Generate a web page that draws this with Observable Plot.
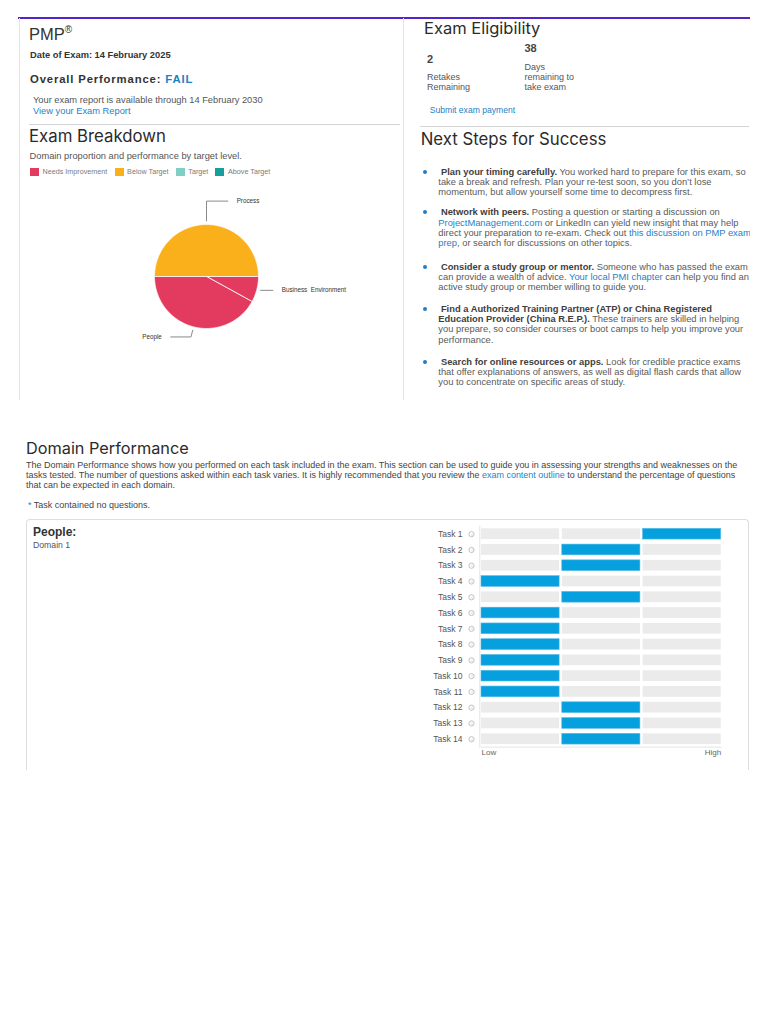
<!DOCTYPE html>
<html><head><meta charset="utf-8">
<script src="https://cdn.jsdelivr.net/npm/d3@7"></script>
<script src="https://cdn.jsdelivr.net/npm/@observablehq/plot@0.6"></script>
<style>
body{margin:0;background:#fff;width:768px;height:1024px;position:relative;overflow:hidden;font-family:"Liberation Sans",Arial,sans-serif;color:#555}
.a{position:absolute;white-space:nowrap}
.h{font-family:Inter,sans-serif;color:#2b2b2b;font-weight:400}
.b{color:#1f7fc6}
.ln{position:absolute;background:#dcdcdc}
.item{position:absolute;white-space:nowrap;font-size:9.35px;line-height:10.4px;width:312px;overflow:hidden;color:#5a5a5a}
.item strong{color:#404040}
.dot{position:absolute;width:4px;height:4px;border-radius:50%;background:#1f7fc6}
.lg [class*="swatches"]{min-height:0 !important;margin:0 !important;font-family:"Liberation Sans",Arial,sans-serif !important;font-size:7.2px !important;color:#7a7a7a !important}
</style></head><body>
<div id="root"></div>
<script>
// ---------- data ----------
const domains = ["Process", "Business Environment", "People"];
const domainShare = [50, 8, 42];
const domainLevel = ["Below Target", "Needs Improvement", "Needs Improvement"];
const levels = ["Needs Improvement", "Below Target", "Target", "Above Target"];
const levelColors = ["#e33b5f", "#f9b01b", "#7fcfc4", "#189e9c"];
const tasks = ["Task 1","Task 2","Task 3","Task 4","Task 5","Task 6","Task 7","Task 8","Task 9","Task 10","Task 11","Task 12","Task 13","Task 14"];
const taskRating = ["High","Mid","Mid","Low","Mid","Low","Low","Low","Low","Low","Low","Mid","Mid","Mid"];
const ratingBands = ["Low", "Mid", "High"];
const ratingLabels = ["Low", "High"];

// ---------- static page text ----------
const body = document.body;
function add(html){ body.insertAdjacentHTML("beforeend", html); }
add(`<div class="ln" style="left:18px;top:16.5px;width:732px;height:2px;background:#5523c9"></div>
<div class="ln" style="left:19px;top:18px;width:1px;height:382px;background:#e6e6e6"></div>
<div class="ln" style="left:403px;top:18px;width:1px;height:382px;background:#e6e6e6"></div>
<div class="a" style="left:29px;top:24px;font-size:16.5px;line-height:21px;color:#333">PMP<span style="font-size:10px;position:relative;top:-7px">®</span></div>
<div class="a" style="left:30px;top:49.5px;font-size:9.3px;line-height:10.4px;font-weight:bold;color:#333">Date of Exam: 14 February 2025</div>
<div class="a" style="left:30px;top:73.2px;font-size:11.3px;line-height:13px;font-weight:bold;letter-spacing:0.85px;color:#333">Overall Performance: <span class="b">FAIL</span></div>
<div class="a" style="left:33px;top:95.3px;font-size:9.3px;line-height:10.4px">Your exam report is available through 14 February 2030</div>
<div class="a b" style="left:33px;top:106.3px;font-size:9.3px;line-height:10.4px">View your Exam Report</div>
<div class="ln" style="left:29px;top:124px;width:371px;height:1px;background:#d4d4d4"></div>
<div class="a h" style="left:29px;top:125.5px;font-size:16.8px;line-height:21px">Exam Breakdown</div>
<div class="a" style="left:29.5px;top:150.8px;font-size:9.3px;line-height:10.4px">Domain proportion and performance by target level.</div>
<div class="a lg" id="legend" style="left:30px;top:167.3px"></div>

<div class="a h" style="left:424px;top:17.8px;font-size:16.5px;line-height:21px">Exam Eligibility</div>
<div class="a" style="left:524.5px;top:41.5px;font-size:11px;line-height:13px;font-weight:bold;color:#444">38</div>
<div class="a" style="left:427px;top:52.5px;font-size:11px;line-height:13px;font-weight:bold;color:#444">2</div>
<div class="a" style="left:427px;top:71.8px;font-size:9px;line-height:10.3px">Retakes<br>Remaining</div>
<div class="a" style="left:524.5px;top:61.5px;font-size:9px;line-height:10.3px">Days<br>remaining to<br>take exam</div>
<div class="a b" style="left:429.7px;top:105px;font-size:8.6px;line-height:10px">Submit exam payment</div>
<div class="ln" style="left:420px;top:126px;width:329px;height:1px;background:#d4d4d4"></div>
<div class="a h" style="left:420.7px;top:128.5px;font-size:16.8px;line-height:21px">Next Steps for Success</div>

<div class="dot" style="left:423px;top:169.5px"></div>
<div class="item" style="left:438.3px;top:166.5px">&nbsp;<strong>Plan your timing carefully.</strong> You worked hard to prepare for this exam, so<br>take a break and refresh. Plan your re-test soon, so you don’t lose<br>momentum, but allow yourself some time to decompress first.</div>
<div class="dot" style="left:423px;top:210.3px"></div>
<div class="item" style="left:438.3px;top:207.1px">&nbsp;<strong>Network with peers.</strong> Posting a question or starting a discussion on<br><span class="b">ProjectManagement.com</span> or LinkedIn can yield new insight that may help<br>direct your preparation to re-exam. Check out <span class="b">this discussion on PMP exam</span><br><span class="b">prep</span>, or search for discussions on other topics.</div>
<div class="dot" style="left:423px;top:264.6px"></div>
<div class="item" style="left:438.3px;top:261.5px">&nbsp;<strong>Consider a study group or mentor.</strong> Someone who has passed the exam<br>can provide a wealth of advice. <span class="b">Your local PMI chapter</span> can help you find an<br>active study group or member willing to guide you.</div>
<div class="dot" style="left:423px;top:306.6px"></div>
<div class="item" style="left:438.3px;top:303.5px">&nbsp;<strong class="b">Find a Authorized Training Partner (ATP) or China Registered</strong><br><strong class="b">Education Provider (China R.E.P.).</strong> These trainers are skilled in helping<br>you prepare, so consider courses or boot camps to help you improve your<br>performance.</div>
<div class="dot" style="left:423px;top:359.6px"></div>
<div class="item" style="left:438.3px;top:356.5px">&nbsp;<strong>Search for online resources or apps.</strong> Look for credible practice exams<br>that offer explanations of answers, as well as digital flash cards that allow<br>you to concentrate on specific areas of study.</div>

<div class="a h" style="left:26px;top:437.5px;font-size:16.3px;line-height:21px">Domain Performance</div>
<div class="a" style="left:26px;top:460px;font-size:8.97px;line-height:10px;color:#444">The Domain Performance shows how you performed on each task included in the exam. This section can be used to guide you in assessing your strengths and weaknesses on the<br>tasks tested. The number of questions asked within each task varies. It is highly recommended that you review the <span class="b">exam content outline</span> to understand the percentage of questions<br>that can be expected in each domain.</div>
<div class="a" style="left:28px;top:500px;font-size:9px;line-height:10px;color:#444"><span class="b">*</span> Task contained no questions.</div>
<div class="a" style="left:26px;top:519px;width:721px;height:250px;border:1px solid #dedede;border-bottom:none;border-radius:4px 4px 0 0"></div>
<div class="a" style="left:33px;top:525.5px;font-size:12px;line-height:13px;font-weight:bold;color:#333">People:</div>
<div class="a" style="left:33px;top:540px;font-size:8.7px;line-height:10px">Domain 1</div>
`);

// ---------- legend ----------
const legend = Plot.legend({
  color: {type: "categorical", domain: levels, range: levelColors},
  legend: "swatches", swatchWidth: 9, swatchHeight: 8
});
document.getElementById("legend").appendChild(legend);

// ---------- pie ----------
const R = 52, W = 380, H = 210, CX = 186, CY = 91;
const arcs = d3.pie().sort(null).startAngle(-Math.PI / 2).endAngle(1.5 * Math.PI)(domainShare);
const slicePts = [];
arcs.forEach((p, i) => {
  const base = {slice: domains[i], level: domainLevel[i]};
  slicePts.push({...base, x: 0, y: 0});
  const n = Math.ceil((p.endAngle - p.startAngle) / 0.01);
  for (let k = 0; k <= n; k++) {
    const a = p.startAngle + (p.endAngle - p.startAngle) * k / n;
    slicePts.push({...base, x: Math.sin(a), y: Math.cos(a)});
  }
  slicePts.push({...base, x: 0, y: 0});
});
// leader layout per slice: radial extension and horizontal run (in radius units)
const leaderOut = [1.45, 1.07, 1.2];
const leaderRun = [0.41, 0.24, 0.39];
const leaders = [], labels = [];
arcs.forEach((p, i) => {
  const m = (p.startAngle + p.endAngle) / 2;
  const sx = Math.sin(m), sy = Math.cos(m);
  const dir = sx < -0.1 ? -1 : 1;
  const p1 = {x: 1.07 * sx, y: 1.07 * sy};
  const p2 = {x: leaderOut[i] * sx, y: leaderOut[i] * sy};
  const p3 = {x: p2.x + dir * leaderRun[i], y: p2.y};
  [p1, p2, p3].forEach(q => leaders.push({slice: domains[i], ...q}));
  labels.push({text: domains[i].replace(" ", "  "), x: p3.x + dir * 0.17, y: p3.y, dir});
});
const pie = Plot.plot({
  width: W, height: H, margin: 0,
  x: {domain: [-CX / R, (W - CX) / R], axis: null},
  y: {domain: [-(H - CY) / R, CY / R], axis: null},
  color: {domain: levels, range: levelColors},
  marks: [
    Plot.line(slicePts, {x: "x", y: "y", z: "slice", fill: "level", stroke: "white", strokeWidth: 0.8}),
    Plot.line(leaders, {x: "x", y: "y", z: "slice", stroke: "#8a8a8a", strokeWidth: 1}),
    Plot.text(labels.filter(d => d.dir > 0), {x: "x", y: "y", text: "text", textAnchor: "start", fontSize: 6.3, fill: "#333", fontFamily: "Liberation Sans"}),
    Plot.text(labels.filter(d => d.dir < 0), {x: "x", y: "y", text: "text", textAnchor: "end", fontSize: 6.3, fill: "#333", fontFamily: "Liberation Sans"})
  ]
});
pie.style.position = "absolute"; pie.style.left = "20px"; pie.style.top = "185px";
body.appendChild(pie);

// ---------- task bars ----------
const taskRows = tasks.map((t, i) => ({task: t, rating: taskRating[i]}));
const bgCells = tasks.flatMap(t => ratingBands.map(b => ({task: t, band: b})));
const bars = Plot.plot({
  width: 310, height: 245, marginLeft: 61, marginRight: 9.3, marginTop: 5.8, marginBottom: 18.4,
  style: {fontFamily: "Liberation Sans, Arial, sans-serif", background: "transparent"},
  x: {domain: ratingBands, paddingInner: 0.033, paddingOuter: 0, round: false, axis: null},
  y: {domain: tasks, paddingInner: 0.32, paddingOuter: 0.16, round: false, axis: null},
  marks: [
    Plot.frame({anchor: "left", stroke: "#e4e4e4", dx: -1.7}),
    Plot.frame({anchor: "bottom", stroke: "#e4e4e4"}),
    Plot.cell(bgCells, {x: "band", y: "task", fill: "#ebebeb"}),
    Plot.cell(taskRows, {x: "rating", y: "task", fill: "#06a0de", stroke: "#55bde9", strokeWidth: 0.6}),
    Plot.text(tasks, {y: d => d, text: d => d, frameAnchor: "left", dx: -19, textAnchor: "end", fontSize: 8.5, fill: "#555"}),
    Plot.dot(tasks, {y: d => d, frameAnchor: "left", dx: -10, r: 2.6, stroke: "#a8a8a8", strokeWidth: 0.7, fill: "none"}),
    Plot.text(tasks, {y: d => d, text: () => "i", frameAnchor: "left", dx: -10, fontSize: 4.2, fill: "#a8a8a8"}),
    Plot.text([ratingLabels[0]], {frameAnchor: "bottom-left", dy: 7.5, textAnchor: "start", fontSize: 8, fill: "#666"}),
    Plot.text([ratingLabels[1]], {frameAnchor: "bottom-right", dy: 7.5, textAnchor: "end", fontSize: 8, fill: "#666"})
  ]
});
bars.style.position = "absolute"; bars.style.left = "420px"; bars.style.top = "520px";
body.appendChild(bars);
</script>
</body></html>
